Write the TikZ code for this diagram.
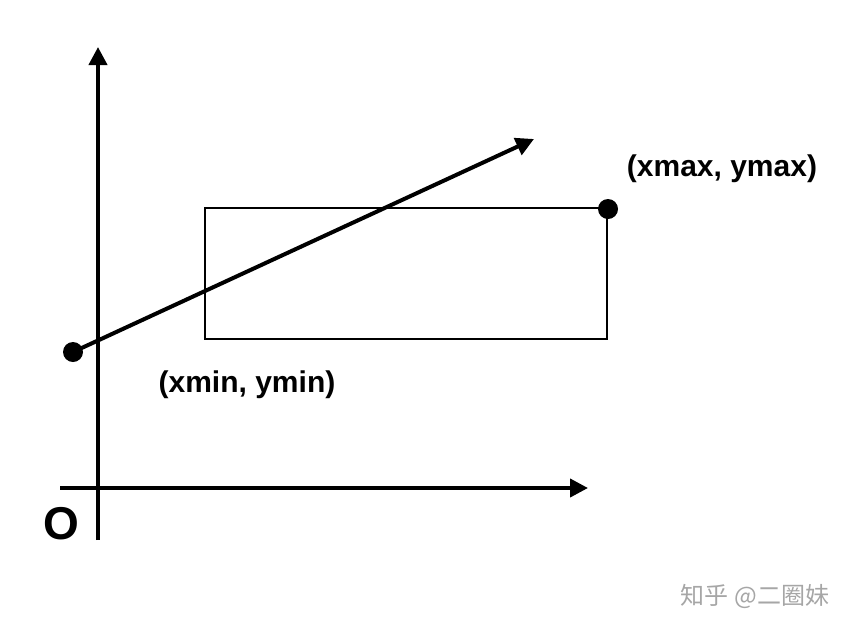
\documentclass[tikz,border=0pt]{standalone}
\usepackage{fontspec}
\setmainfont{Liberation Sans}
\newfontfamily\cjk{Noto Sans CJK SC}
\usetikzlibrary{arrows.meta}
\begin{document}
\begin{tikzpicture}[x=1pt,y=-1pt,
  thickline/.style={line width=4pt,-{Triangle[length=18pt,width=18pt]}},
  dotpt/.style={circle,fill=black,inner sep=0pt,minimum size=20pt},
  lbl/.style={font=\bfseries\fontsize{30}{34}\selectfont}]
\useasboundingbox (0,0) rectangle (856,630);
\coordinate (ys) at (98,540); \coordinate (ye) at (98,47);
\coordinate (xs) at (60,488); \coordinate (xe) at (588,488);
\draw[thickline] (ys) -- (ye);
\draw[thickline] (xs) -- (xe);
\node[font=\bfseries\fontsize{46}{50}\selectfont] (o) at (61,524) {O};
\node[draw,line width=1.3pt,minimum width=402pt,minimum height=131pt,inner sep=0pt] (box) at (406,273.5) {};
\node[dotpt] (p1) at (73,352) {};
\node[dotpt] (p2) at (608,209) {};
\coordinate (re) at (534,139);
\draw[thickline] (p1.center) -- (re);
\node[lbl] (l2) at (722,169) {(xmax, ymax)};
\node[lbl] (l1) at (247,385) {(xmin, ymin)};
\node[text=gray!70,font=\cjk\fontsize{24}{28}\selectfont] (wm) at (755,596) {知乎 @二圈妹};
\end{tikzpicture}
\end{document}
